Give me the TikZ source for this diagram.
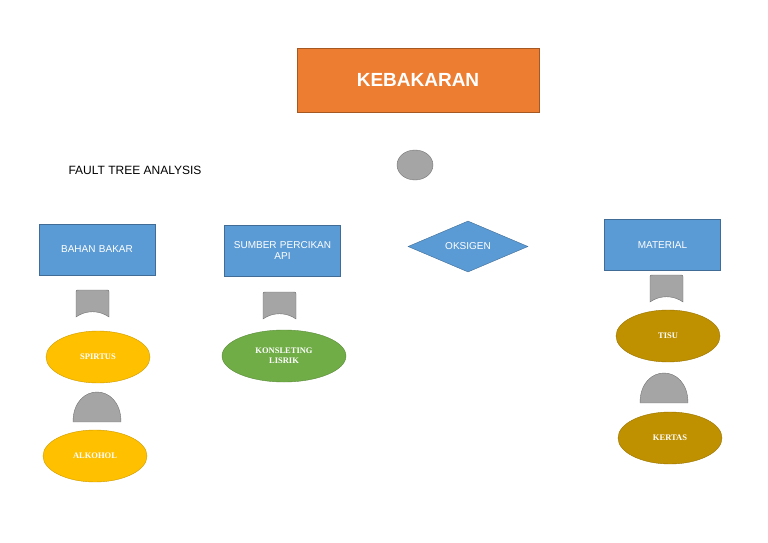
\documentclass[tikz,border=0pt]{standalone}
\usepackage{fontspec}
\setmainfont{Liberation Serif}
\newfontfamily\sansf{Liberation Sans}
\usetikzlibrary{shapes.geometric}
\definecolor{orb}{HTML}{ED7D31}
\definecolor{blu}{HTML}{5B9BD5}
\definecolor{ylw}{HTML}{FFC000}
\definecolor{grn}{HTML}{70AD47}
\definecolor{brn}{HTML}{BF9000}
\definecolor{gry}{HTML}{A5A5A5}
\tikzset{
 bluebox/.style={draw=blu!70!black,fill=blu,text=white,font=\sansf\fontsize{10}{11}\selectfont,minimum width=116pt,minimum height=51pt,align=center,inner sep=2pt,text width=112pt},
 ev/.style={ellipse,draw=#1!80!black,fill=#1,text=white,font=\bfseries\fontsize{8.5}{10}\selectfont,minimum width=104pt,minimum height=52pt,align=center},
 gatefill/.style={fill=gry,draw=gry!70!black,line width=0.4pt}
}
\newcommand{\orgate}[3]{% x center, top y, half width
 \fill[gatefill] (#1-#3,#2+2) -- (#1-#3,#2+27) .. controls (#1-#3*0.4,#2+20) and (#1+#3*0.4,#2+20) .. (#1+#3,#2+27) -- (#1+#3,#2+2) .. controls (#1+#3,#2) .. (#1+#3-3,#2) -- (#1-#3+3,#2) .. controls (#1-#3,#2) .. cycle;}
\newcommand{\andgate}[3]{% x center, bottom y, half width
 \fill[gatefill] (#1-#3,#2) -- (#1+#3,#2) .. controls (#1+#3,#2-40) and (#1-#3,#2-40) .. (#1-#3,#2) -- cycle;}
\begin{document}
\begin{tikzpicture}[x=1pt,y=-1pt]
\useasboundingbox (0,0) rectangle (768,543);
\node[draw=orb!70!black,fill=orb,text=white,font=\sansf\bfseries\fontsize{19}{22}\selectfont,minimum width=242pt,minimum height=64pt] (top) at (418,80) {KEBAKARAN};
\node[ellipse,fill=gry,draw=gry!70!black,minimum width=36pt,minimum height=30pt,inner sep=0pt] (c) at (415,165) {};
\node[font=\sansf\fontsize{12}{14}\selectfont,anchor=west] (fta) at (65,170) {FAULT TREE ANALYSIS};
\node[bluebox] (bb) at (97,249.5) {BAHAN BAKAR};
\node[bluebox] (sp) at (282.5,250.5) {SUMBER PERCIKAN\\API};
\node[diamond,aspect=2.35,draw=blu!70!black,fill=blu,text=white,font=\sansf\fontsize{10}{11}\selectfont,minimum width=120pt,minimum height=51pt,inner sep=0pt] (ok) at (468,246.5) {OKSIGEN};
\node[bluebox] (mt) at (662.5,245) {MATERIAL};
\orgate{92.5}{290}{16.5}
\orgate{279.5}{292}{16.5}
\orgate{666.5}{275}{16.5}
\andgate{97}{422}{24}
\andgate{664}{403}{24}
\node[ev=ylw] (spi) at (98,357) {SPIRTUS};
\node[ev=grn,minimum width=124pt] (kon) at (284,356) {KONSLETING\\LISRIK};
\node[ev=brn] (tis) at (668,336) {TISU};
\node[ev=ylw] (alk) at (95,456) {ALKOHOL};
\node[ev=brn] (ker) at (670,438) {KERTAS};
\end{tikzpicture}
\end{document}
